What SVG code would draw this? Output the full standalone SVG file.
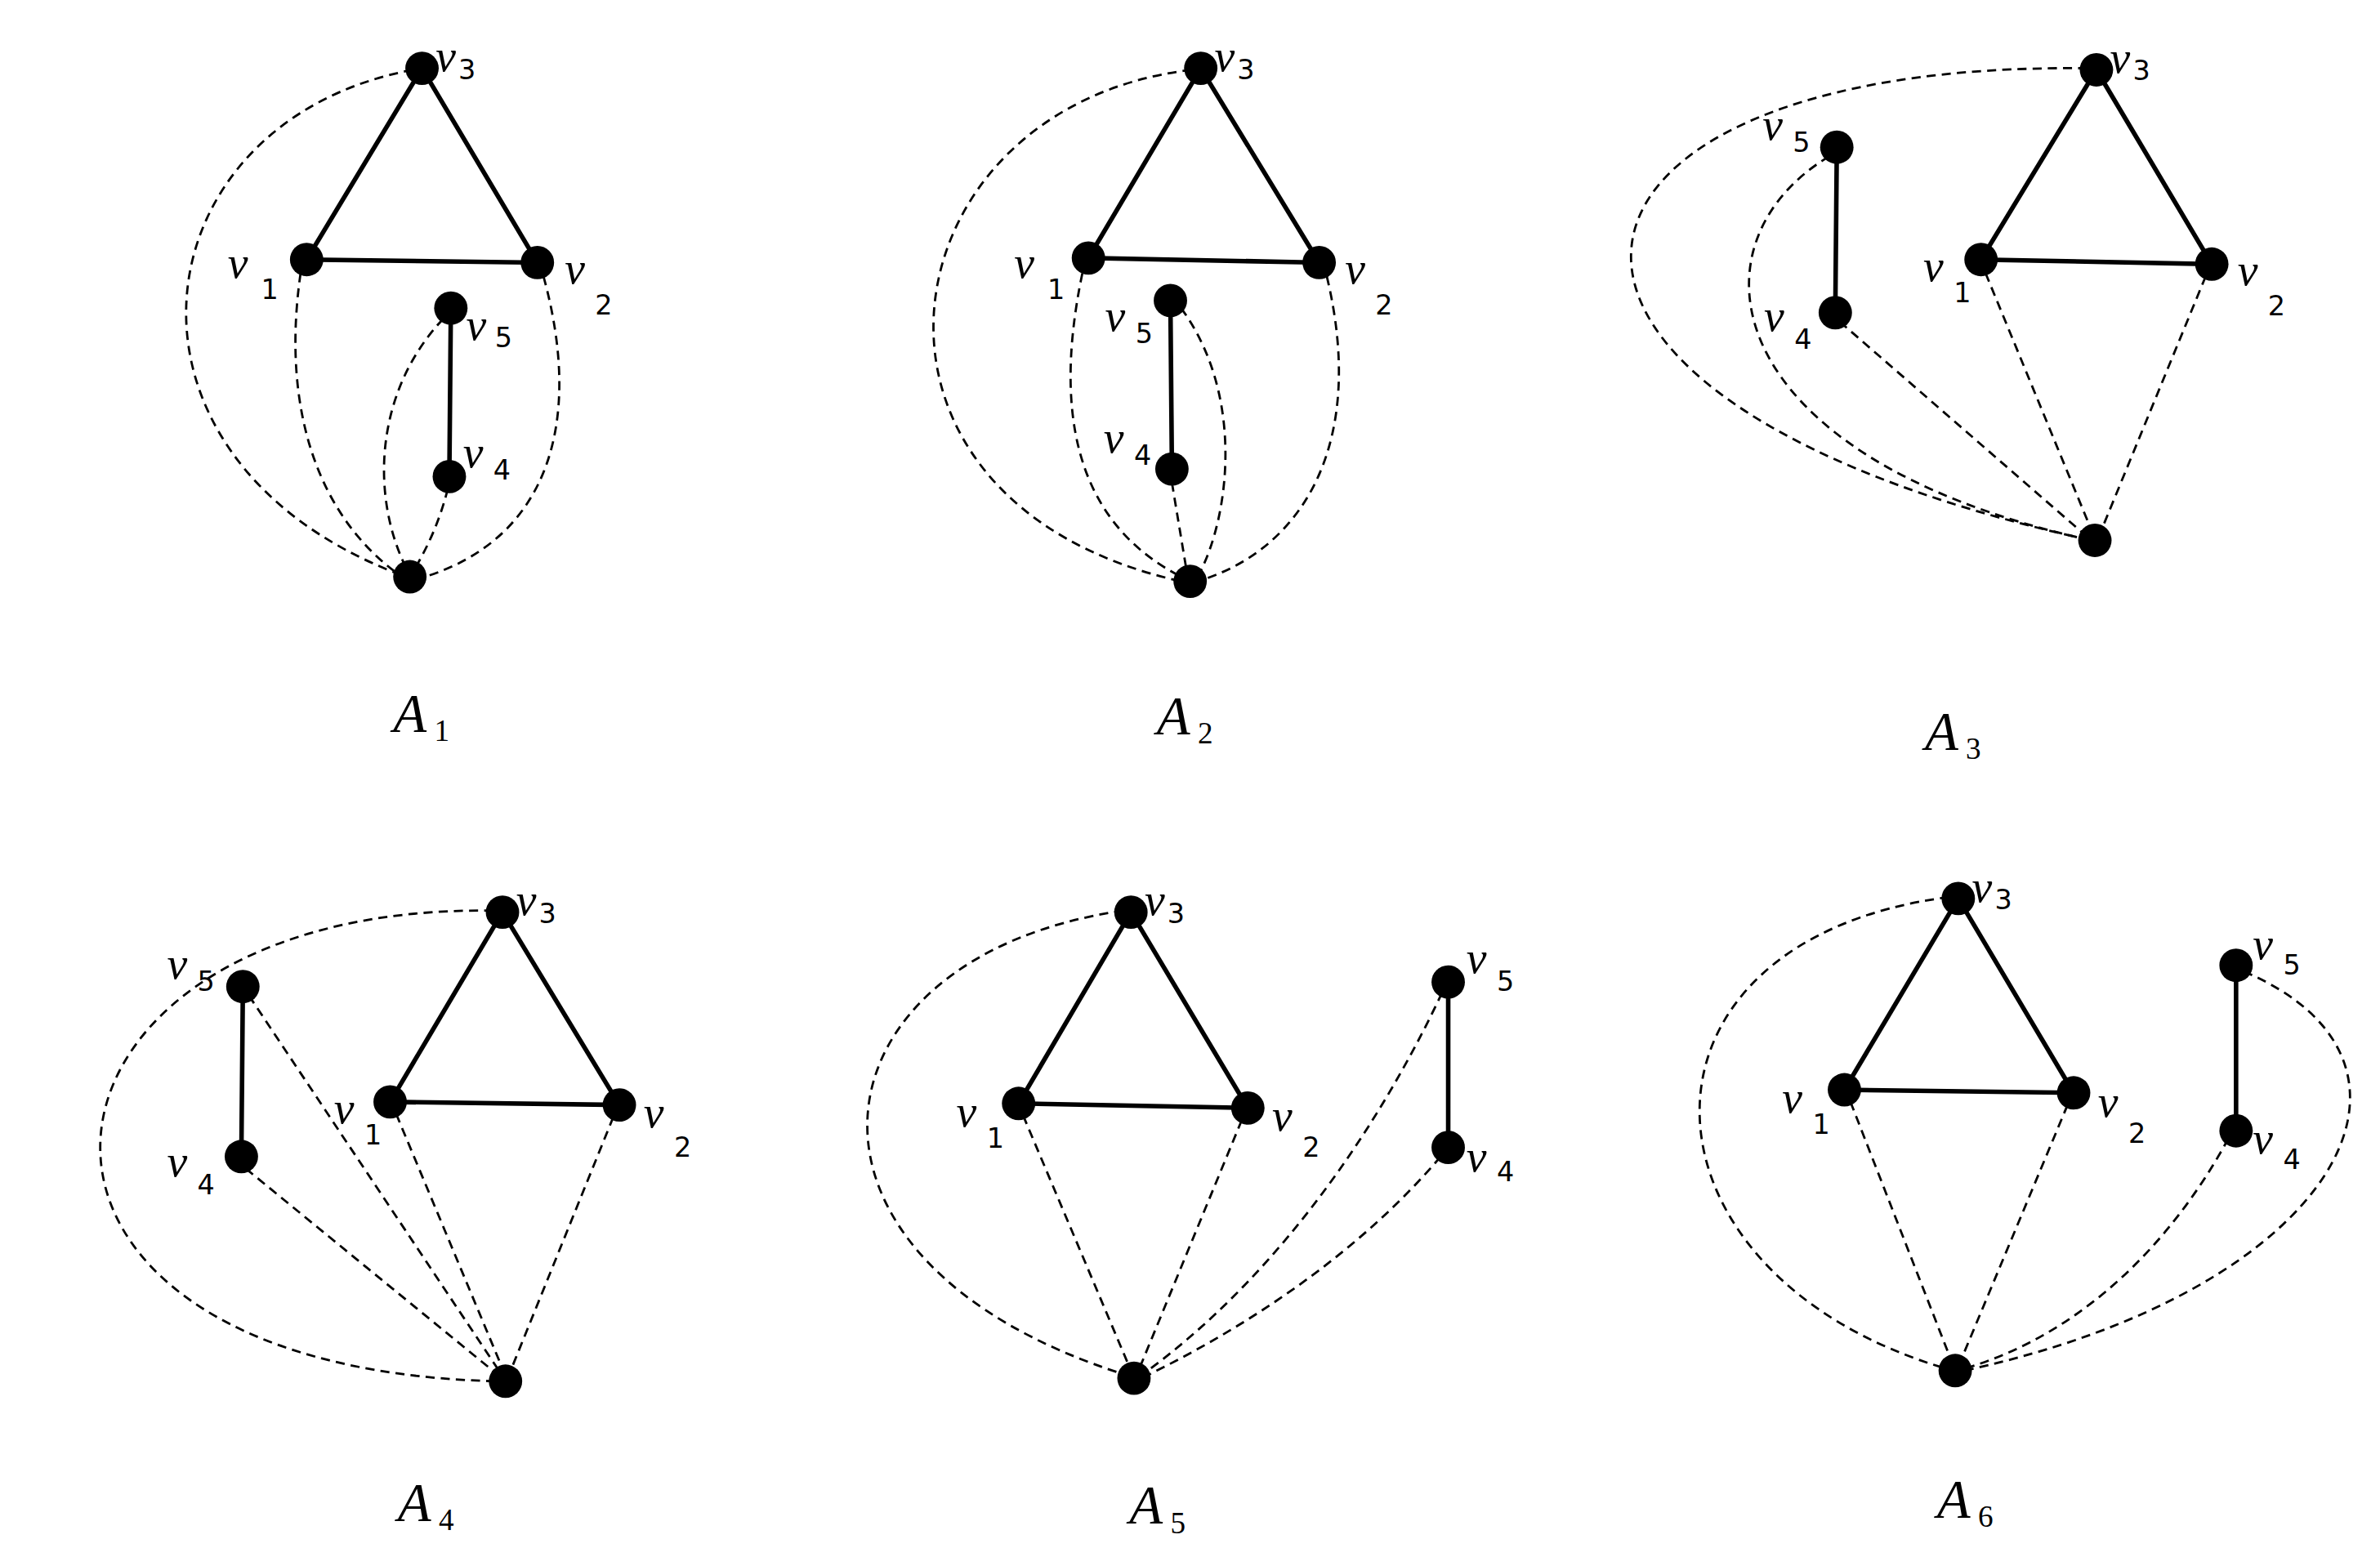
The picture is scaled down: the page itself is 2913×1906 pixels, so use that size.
<svg xmlns="http://www.w3.org/2000/svg" width="2913" height="1906" viewBox="0 0 2913 1906">
<style>
.s{stroke:#000;stroke-width:3;fill:none}
.d{stroke:#000;stroke-width:1.5;fill:none;stroke-dasharray:6 4}
.n{fill:#000}
.v{font-family:"Liberation Serif",serif;font-style:italic;font-size:30px}
.b{font-family:"DejaVu Sans",sans-serif;font-size:18px}
.A{font-family:"Liberation Serif",serif;font-style:italic;font-size:36px}
.a{font-family:"Liberation Serif",serif;font-size:20px}
</style>
<rect width="2913" height="1906" fill="#fff"/>
<g transform="scale(1.858)">
<g id="connectors">
<path class="d" d="M272,46 C90,80 60,300 262,378"/>
<path class="d" d="M198,180 C185,270 210,340 262,378"/>
<path class="d" d="M358,182 C385,280 360,355 280,380"/>
<path class="d" d="M292,210 C245,260 245,330 268,375"/>
<path class="d" d="M295,322 Q288,350 273,375"/>
<path class="d" d="M785,46 C580,70 540,330 778,383"/>
<path class="d" d="M713,180 C690,290 720,350 778,380"/>
<path class="d" d="M874,182 C900,290 860,360 792,382"/>
<path class="d" d="M778,203 C820,260 810,340 790,378"/>
<path class="d" d="M772,318 L782,378"/>
<path class="d" d="M1375,45 C1000,40 950,260 1373,355"/>
<path class="d" d="M1205,103 C1110,160 1130,300 1373,355"/>
<path class="d" d="M1212,212 L1373,352"/>
<path class="d" d="M1308,180 L1378,350"/>
<path class="d" d="M1453,182 L1384,350"/>
<path class="d" d="M325,600 C0,595 -40,900 325,910"/>
<path class="d" d="M164,656 L330,905"/>
<path class="d" d="M162,770 L327,905"/>
<path class="d" d="M261,734 L332,904"/>
<path class="d" d="M404,736 L336,904"/>
<path class="d" d="M740,600 C530,630 500,830 742,906"/>
<path class="d" d="M674,735 L745,903"/>
<path class="d" d="M818,738 L750,903"/>
<path class="d" d="M950,654 C900,760 830,850 752,906"/>
<path class="d" d="M949,762 C900,820 830,870 754,907"/>
<path class="d" d="M1284,591 C1060,620 1070,840 1283,902"/>
<path class="d" d="M1219,726 L1286,898"/>
<path class="d" d="M1362,728 L1291,898"/>
<path class="d" d="M1468,750 C1430,820 1370,880 1293,902"/>
<path class="d" d="M1478,640 C1620,700 1540,850 1294,903"/>
<!-- solid -->
<path class="s" d="M278,45 L202,171 L354,173 Z M297,203 L296,314"/>
<path class="s" d="M791,45 L717,170 L869,173 Z M771,198 L772,309"/>
<path class="s" d="M1381,46 L1305,171 L1457,174 Z M1210,97 L1209,206"/>
<path class="s" d="M331,601 L257,726 L408,728 Z M160,650 L159,762"/>
<path class="s" d="M745,601 L671,727 L822,730 Z M954,647 L954,756"/>
<path class="s" d="M1290,592 L1215,718 L1366,720 Z M1473,636 L1473,745"/>
</g>
<g id="A1">
<circle class="n" cx="278" cy="45" r="11"/><circle class="n" cx="202" cy="171" r="11"/><circle class="n" cx="354" cy="173" r="11"/><circle class="n" cx="297" cy="203" r="11"/><circle class="n" cx="296" cy="314" r="11"/><circle class="n" cx="270" cy="380" r="11"/>
<text class="v" x="287" y="47">v</text><text class="b" x="302" y="52">3</text>
<text class="v" x="150" y="183">v</text><text class="b" x="172" y="197">1</text>
<text class="v" x="372" y="187">v</text><text class="b" x="392" y="207">2</text>
<text class="v" x="307" y="224">v</text><text class="b" x="326" y="229">5</text>
<text class="v" x="305" y="308">v</text><text class="b" x="325" y="316">4</text>
<text class="A" x="259" y="482">A</text><text class="a" x="286" y="488">1</text>
</g>
<g id="A2">
<circle class="n" cx="791" cy="45" r="11"/><circle class="n" cx="717" cy="170" r="11"/><circle class="n" cx="869" cy="173" r="11"/><circle class="n" cx="771" cy="198" r="11"/><circle class="n" cx="772" cy="309" r="11"/><circle class="n" cx="784" cy="383" r="11"/>
<text class="v" x="800" y="47">v</text><text class="b" x="815" y="52">3</text>
<text class="v" x="668" y="183">v</text><text class="b" x="690" y="197">1</text>
<text class="v" x="886" y="187">v</text><text class="b" x="906" y="207">2</text>
<text class="v" x="728" y="218">v</text><text class="b" x="748" y="226">5</text>
<text class="v" x="727" y="298">v</text><text class="b" x="747" y="306">4</text>
<text class="A" x="762" y="484">A</text><text class="a" x="789" y="490">2</text>
</g>
<g id="A3">
<circle class="n" cx="1381" cy="46" r="11"/><circle class="n" cx="1305" cy="171" r="11"/><circle class="n" cx="1457" cy="174" r="11"/><circle class="n" cx="1210" cy="97" r="11"/><circle class="n" cx="1209" cy="206" r="11"/><circle class="n" cx="1380" cy="356" r="11"/>
<text class="v" x="1390" y="48">v</text><text class="b" x="1405" y="53">3</text>
<text class="v" x="1267" y="185">v</text><text class="b" x="1287" y="199">1</text>
<text class="v" x="1474" y="188">v</text><text class="b" x="1494" y="208">2</text>
<text class="v" x="1161" y="92">v</text><text class="b" x="1181" y="100">5</text>
<text class="v" x="1162" y="218">v</text><text class="b" x="1182" y="230">4</text>
<text class="A" x="1268" y="494">A</text><text class="a" x="1295" y="500">3</text>
</g>
<g id="A4">
<circle class="n" cx="331" cy="601" r="11"/><circle class="n" cx="257" cy="726" r="11"/><circle class="n" cx="408" cy="728" r="11"/><circle class="n" cx="160" cy="650" r="11"/><circle class="n" cx="159" cy="762" r="11"/><circle class="n" cx="333" cy="910" r="11"/>
<text class="v" x="340" y="603">v</text><text class="b" x="355" y="608">3</text>
<text class="v" x="220" y="740">v</text><text class="b" x="240" y="754">1</text>
<text class="v" x="424" y="743">v</text><text class="b" x="444" y="762">2</text>
<text class="v" x="110" y="645">v</text><text class="b" x="130" y="653">5</text>
<text class="v" x="110" y="775">v</text><text class="b" x="130" y="787">4</text>
<text class="A" x="262" y="1002">A</text><text class="a" x="289" y="1008">4</text>
</g>
<g id="A5">
<circle class="n" cx="745" cy="601" r="11"/><circle class="n" cx="671" cy="727" r="11"/><circle class="n" cx="822" cy="730" r="11"/><circle class="n" cx="954" cy="647" r="11"/><circle class="n" cx="954" cy="756" r="11"/><circle class="n" cx="747" cy="908" r="11"/>
<text class="v" x="754" y="603">v</text><text class="b" x="769" y="608">3</text>
<text class="v" x="630" y="742">v</text><text class="b" x="650" y="756">1</text>
<text class="v" x="838" y="745">v</text><text class="b" x="858" y="762">2</text>
<text class="v" x="966" y="641">v</text><text class="b" x="986" y="653">5</text>
<text class="v" x="966" y="772">v</text><text class="b" x="986" y="778">4</text>
<text class="A" x="744" y="1004">A</text><text class="a" x="771" y="1010">5</text>
</g>
<g id="A6">
<circle class="n" cx="1290" cy="592" r="11"/><circle class="n" cx="1215" cy="718" r="11"/><circle class="n" cx="1366" cy="720" r="11"/><circle class="n" cx="1473" cy="636" r="11"/><circle class="n" cx="1473" cy="745" r="11"/><circle class="n" cx="1288" cy="903" r="11"/>
<text class="v" x="1299" y="594">v</text><text class="b" x="1314" y="599">3</text>
<text class="v" x="1174" y="733">v</text><text class="b" x="1194" y="747">1</text>
<text class="v" x="1382" y="736">v</text><text class="b" x="1402" y="753">2</text>
<text class="v" x="1484" y="632">v</text><text class="b" x="1504" y="642">5</text>
<text class="v" x="1484" y="760">v</text><text class="b" x="1504" y="770">4</text>
<text class="A" x="1276" y="1000">A</text><text class="a" x="1303" y="1006">6</text>
</g>
</g>
</svg>
